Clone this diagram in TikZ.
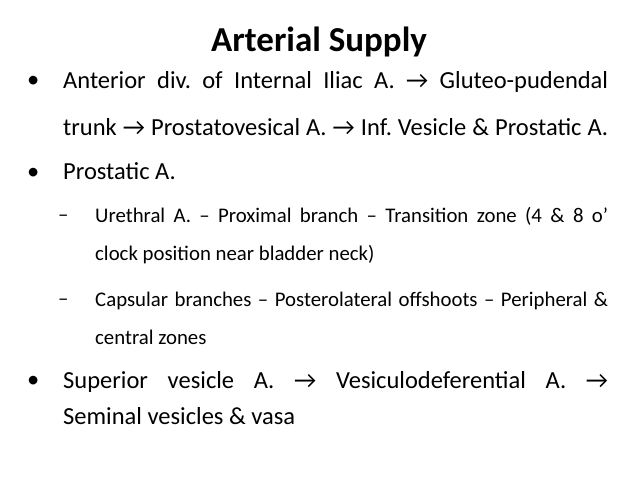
\documentclass[tikz,border=0pt]{standalone}
\usepackage{fontspec}
\setmainfont{Carlito}
\frenchspacing
\newcommand{\jl}[2]{\parbox{#1}{\parfillskip=0pt\relax #2}}
\begin{document}
\begin{tikzpicture}[x=1pt,y=-1pt,
  body/.style={anchor=base west,inner sep=0pt,font=\fontsize{24.5}{28}\selectfont},
  sub/.style={anchor=base west,inner sep=0pt,font=\fontsize{20.8}{23}\selectfont}]
\useasboundingbox[fill=white] (0,0) rectangle (638,478);
\node[anchor=base,inner sep=0pt,font=\fontsize{35}{40}\selectfont\bfseries] (title) at (319,52) {Arterial Supply};
\node[body] (b1) at (27,88) {•};
\node[body] (l1) at (63,88) {\jl{545pt}{Anterior div. of Internal Iliac A. → Gluteo-pudendal}};
\node[body] (l2) at (63,133) {\jl{545pt}{trunk → Prostatovesical A. → Inf. Vesicle \& Prostatic A.}};
\node[body] (b2) at (27,180) {•};
\node[body] (l3) at (63,180) {Prostatic A.};
\node[sub] (d1) at (58,222) {–};
\node[sub] (l4) at (95,222) {\jl{513pt}{Urethral A. – Proximal branch – Transition zone (4 \& 8 o’}};
\node[sub] (l5) at (95,261) {clock position near bladder neck)};
\node[sub] (d2) at (58,306) {–};
\node[sub] (l6) at (95,306) {\jl{513pt}{Capsular branches – Posterolateral offshoots – Peripheral \&}};
\node[sub] (l7) at (95,345) {central zones};
\node[body] (b3) at (27,388) {•};
\node[body] (l8) at (63,388) {\jl{545pt}{Superior vesicle A. → Vesiculodeferential A. →}};
\node[body] (l9) at (63,425) {Seminal vesicles \& vasa};
\end{tikzpicture}
\end{document}
